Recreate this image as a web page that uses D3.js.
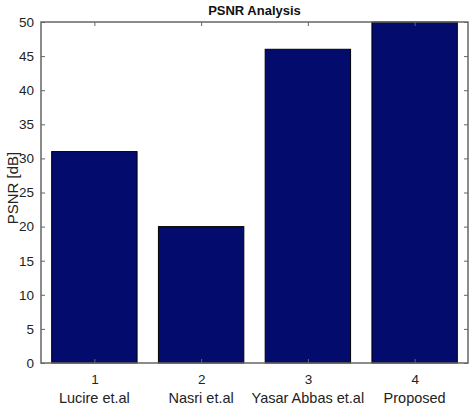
<!DOCTYPE html>
<html><head><meta charset="utf-8">
<script src="https://cdn.jsdelivr.net/npm/d3@7"></script>
<style>body{margin:0;background:#fff}svg{display:block}text{font-family:Arial,"Liberation Sans",sans-serif}</style>
</head><body>
<svg id="c" width="474" height="410"></svg>
<script>
const categories = ["Lucire et.al", "Nasri et.al", "Yasar Abbas et.al", "Proposed"];
const positions = [1, 2, 3, 4];
const psnr = [31, 20, 46, 50];
const yTicks = [0, 5, 10, 15, 20, 25, 30, 35, 40, 45, 50];

const svg = d3.select("#c");
const m = {l: 41, r: 468, t: 22, b: 363};
const x = d3.scaleLinear().domain([0.5, 4.5]).range([m.l, m.r]);
const y = d3.scaleLinear().domain([0, 50]).range([m.b, m.t]);
const axisCol = "#666";
const textCol = "#222";
const bw = x(1.4) - x(0.6);

svg.append("g").selectAll("rect").data(psnr).join("rect")
  .attr("x", (d, i) => x(positions[i] - 0.4))
  .attr("y", d => y(d))
  .attr("width", bw)
  .attr("height", d => y(0) - y(d))
  .attr("fill", "#030b6c")
  .attr("stroke", "#000")
  .attr("stroke-width", 1);

// box
svg.append("rect").attr("x", m.l).attr("y", m.t).attr("width", m.r - m.l).attr("height", m.b - m.t)
  .attr("fill", "none").attr("stroke", axisCol).attr("stroke-width", 1.5);

const yl = svg.append("g").attr("transform", `translate(${m.l},0)`)
  .call(d3.axisLeft(y).tickValues(yTicks).tickSize(-4).tickPadding(7));
const yr = svg.append("g").attr("transform", `translate(${m.r},0)`)
  .call(d3.axisRight(y).tickValues(yTicks).tickSize(-4).tickFormat(""));
const xb = svg.append("g").attr("transform", `translate(0,${m.b})`)
  .call(d3.axisBottom(x).tickValues(positions).tickSize(-4).tickPadding(11).tickFormat(d3.format("d")));
const xt = svg.append("g").attr("transform", `translate(0,${m.t})`)
  .call(d3.axisTop(x).tickValues(positions).tickSize(-4).tickFormat(""));
[yl, yr, xb, xt].forEach(g => {
  g.select(".domain").remove();
  g.selectAll("line").attr("stroke", axisCol);
  g.selectAll("text").attr("font-size", 13.5).attr("fill", textCol);
});

svg.append("g").selectAll("text").data(categories).join("text")
  .attr("x", (d, i) => x(positions[i]))
  .attr("y", 403)
  .attr("text-anchor", "middle")
  .attr("font-size", 14.5)
  .attr("fill", textCol)
  .text(d => d);

svg.append("text").attr("x", (m.l + m.r) / 2).attr("y", 15)
  .attr("text-anchor", "middle").attr("font-size", 13).attr("font-weight", "bold")
  .attr("fill", "#111").text("PSNR Analysis");

svg.append("text").attr("transform", `translate(18,188) rotate(-90)`)
  .attr("text-anchor", "middle").attr("font-size", 15).attr("fill", textCol).text("PSNR [dB]");
</script>
</body></html>
